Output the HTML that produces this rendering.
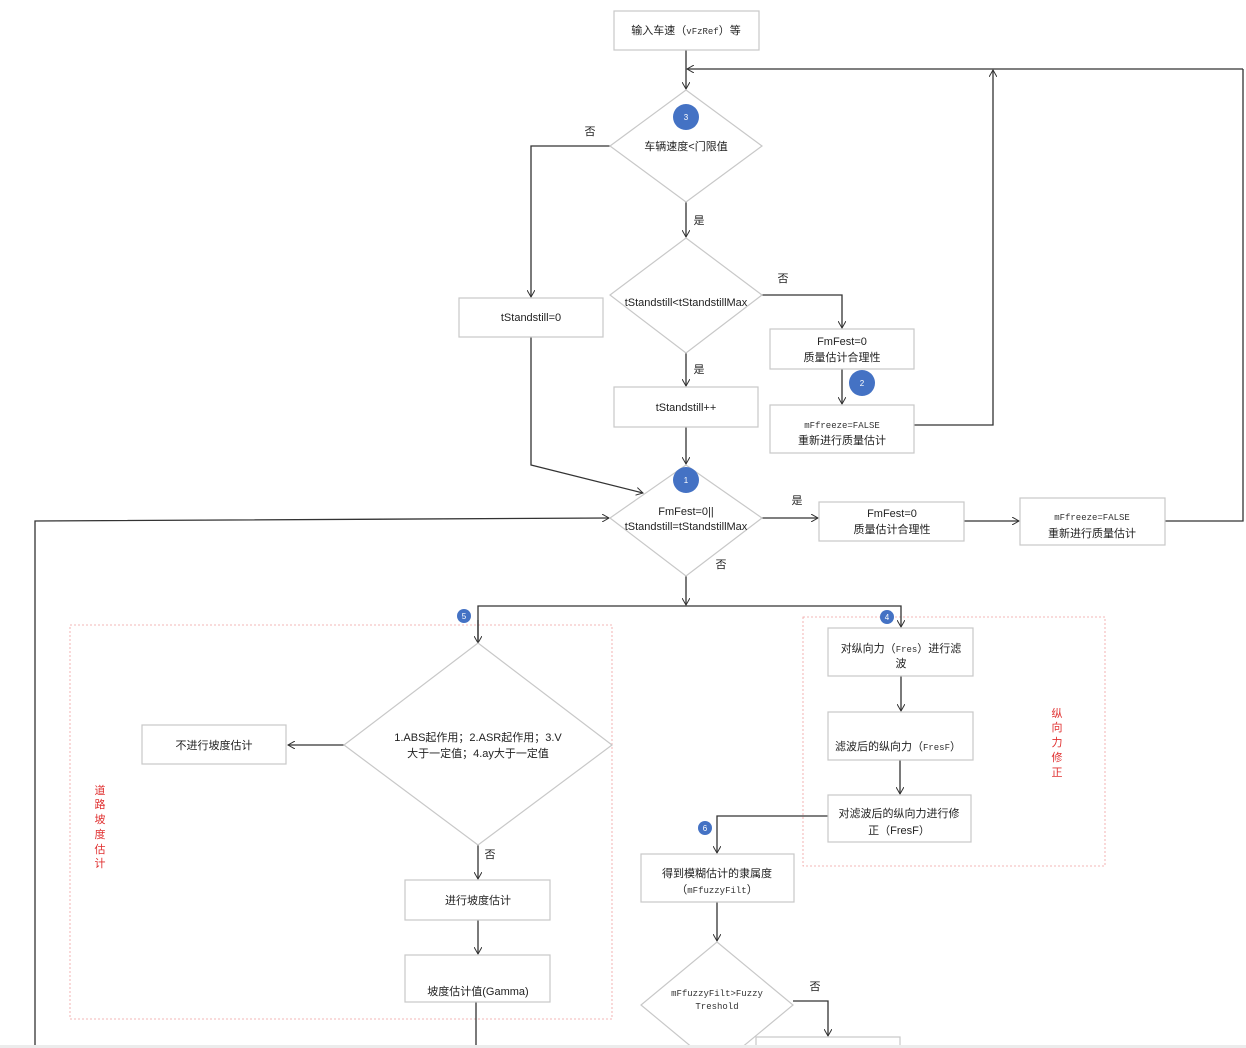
<!DOCTYPE html>
<html><head><meta charset="utf-8"><style>
html,body{margin:0;padding:0;background:#fff;}
svg{display:block;font-family:"Liberation Sans","Noto Sans CJK SC",sans-serif;}
.b{fill:#fff;stroke:#c8c8c8;stroke-width:1.2}
.l{stroke:#333;stroke-width:1.3;fill:none}
.t{font-size:11px;fill:#222;text-anchor:middle}
.m{font-family:"Liberation Mono","Noto Sans CJK SC",monospace;font-size:9px;fill:#333;text-anchor:middle}
.c{fill:#4472c4}
.ct{font-size:8px;fill:#fff;text-anchor:middle}
.r{font-size:11px;fill:#e03030;text-anchor:middle}
</style></head><body>
<svg width="1246" height="1048" viewBox="0 0 1246 1048">
<defs><marker id="a" markerWidth="8" markerHeight="8" refX="7" refY="4" orient="auto" markerUnits="userSpaceOnUse"><path d="M0,0 L7,4 L0,8" fill="none" stroke="#333" stroke-width="1"/></marker></defs>

<!-- dashed regions -->
<rect x="70" y="625" width="542" height="394" fill="none" stroke="#f0a0a0" stroke-width="0.8" stroke-dasharray="2,2"/>
<rect x="803" y="617" width="302" height="249" fill="none" stroke="#f0a0a0" stroke-width="0.8" stroke-dasharray="2,2"/>

<!-- lines -->
<path class="l" d="M686,50 V89" marker-end="url(#a)"/>
<path class="l" d="M1243,69 H687" marker-end="url(#a)"/>
<path class="l" d="M914,425 H993 V70" marker-end="url(#a)"/>
<path class="l" d="M1165,521 H1243 V69"/>
<path class="l" d="M610,146 H531 V297" marker-end="url(#a)"/>
<path class="l" d="M686,202 V237" marker-end="url(#a)"/>
<path class="l" d="M762,295 H842 V328" marker-end="url(#a)"/>
<path class="l" d="M842,369 V404" marker-end="url(#a)"/>
<path class="l" d="M686,353 V386" marker-end="url(#a)"/>
<path class="l" d="M686,427 V464" marker-end="url(#a)"/>
<path class="l" d="M531,337 V465 L643,493" marker-end="url(#a)"/>
<path class="l" d="M35,1048 V521 L609,518" marker-end="url(#a)"/>
<path class="l" d="M762,518 H818" marker-end="url(#a)"/>
<path class="l" d="M964,521 H1019" marker-end="url(#a)"/>
<path class="l" d="M686,576 V605" marker-end="url(#a)"/>
<path class="l" d="M478,643 V606 H901 V627" marker-end="url(#a)" stroke-width="1.6"/>
<path class="l" d="M478,620 V643" marker-end="url(#a)"/>
<path class="l" d="M344,745 H288" marker-end="url(#a)"/>
<path class="l" d="M478,845 V879" marker-end="url(#a)"/>
<path class="l" d="M478,920 V954" marker-end="url(#a)"/>
<path class="l" d="M476,1002 V1048"/>
<path class="l" d="M901,676 V711" marker-end="url(#a)"/>
<path class="l" d="M900,760 V794" marker-end="url(#a)"/>
<path class="l" d="M828,816 H717 V853" marker-end="url(#a)"/>
<path class="l" d="M717,902 V941" marker-end="url(#a)"/>
<path class="l" d="M793,1001 H828 V1036" marker-end="url(#a)"/>

<!-- boxes -->
<rect class="b" x="614" y="11" width="145" height="39"/>
<text class="t" x="686" y="34" font-size="10">输入车速（<tspan class="m">vFzRef</tspan>）等</text>
<polygon class="b" points="686,90 762,146 686,202 610,146"/>
<text class="t" x="686" y="150">车辆速度&lt;门限值</text>
<polygon class="b" points="686,238 762,295 686,353 610,295"/>
<text class="t" x="686" y="306" font-size="10.5">tStandstill&lt;tStandstillMax</text>
<rect class="b" x="459" y="298" width="144" height="39"/>
<text class="t" x="531" y="321" font-size="10.5">tStandstill=0</text>
<rect class="b" x="770" y="329" width="144" height="40"/>
<text class="t" x="842" y="345" font-size="10.5">FmFest=0</text>
<text class="t" x="842" y="361">质量估计合理性</text>
<rect class="b" x="770" y="405" width="144" height="48"/>
<text class="m" x="842" y="428">mFfreeze=FALSE</text>
<text class="t" x="842" y="444">重新进行质量估计</text>
<rect class="b" x="614" y="387" width="144" height="40"/>
<text class="t" x="686" y="411" font-size="10.5">tStandstill++</text>
<polygon class="b" points="686,465 762,518 686,576 610,518"/>
<text class="t" x="686" y="515" font-size="10.5">FmFest=0||</text>
<text class="t" x="686" y="530" font-size="10.5">tStandstill=tStandstillMax</text>
<rect class="b" x="819" y="502" width="145" height="39"/>
<text class="t" x="892" y="517" font-size="10.5">FmFest=0</text>
<text class="t" x="892" y="533">质量估计合理性</text>
<rect class="b" x="1020" y="498" width="145" height="47"/>
<text class="m" x="1092" y="520">mFfreeze=FALSE</text>
<text class="t" x="1092" y="537">重新进行质量估计</text>

<polygon class="b" points="478,643 612,745 478,845 344,745"/>
<text class="t" x="478" y="741" font-size="10.5">1.ABS起作用；2.ASR起作用；3.V</text>
<text class="t" x="478" y="757" font-size="10.5">大于一定值；4.ay大于一定值</text>
<rect class="b" x="142" y="725" width="144" height="39"/>
<text class="t" x="214" y="749">不进行坡度估计</text>
<rect class="b" x="405" y="880" width="145" height="40"/>
<text class="t" x="478" y="904">进行坡度估计</text>
<rect class="b" x="405" y="955" width="145" height="47"/>
<text class="t" x="478" y="995">坡度估计值(Gamma)</text>

<rect class="b" x="828" y="628" width="145" height="48"/>
<text class="t" x="901" y="652">对纵向力（<tspan class="m">Fres</tspan>）进行滤</text>
<text class="t" x="901" y="667">波</text>
<rect class="b" x="828" y="712" width="145" height="48"/>
<text class="t" x="898" y="750">滤波后的纵向力（<tspan class="m">FresF</tspan>）</text>
<rect class="b" x="828" y="795" width="143" height="47"/>
<text class="t" x="899" y="817">对滤波后的纵向力进行修</text>
<text class="t" x="899" y="834">正（FresF）</text>
<rect class="b" x="641" y="854" width="153" height="48"/>
<text class="t" x="717" y="877">得到模糊估计的隶属度</text>
<text class="t" x="717" y="893" font-size="9">（<tspan class="m">mFfuzzyFilt</tspan>）</text>
<polygon class="b" points="717,942 793,1005 717,1068 641,1005"/>
<text class="m" x="717" y="996">mFfuzzyFilt&gt;Fuzzy</text>
<text class="m" x="717" y="1009">Treshold</text>
<rect class="b" x="756" y="1037" width="144" height="30"/>

<!-- labels -->
<text class="t" x="590" y="135">否</text>
<text class="t" x="699" y="224">是</text>
<text class="t" x="783" y="282">否</text>
<text class="t" x="699" y="373">是</text>
<text class="t" x="797" y="504">是</text>
<text class="t" x="721" y="568">否</text>
<text class="t" x="490" y="858">否</text>
<text class="t" x="815" y="990">否</text>

<g class="r"><text x="100" y="794">道</text><text x="100" y="808">路</text><text x="100" y="823">坡</text><text x="100" y="838">度</text><text x="100" y="853">估</text><text x="100" y="867">计</text></g>
<g class="r"><text x="1057" y="717">纵</text><text x="1057" y="731">向</text><text x="1057" y="746">力</text><text x="1057" y="761">修</text><text x="1057" y="776">正</text></g>

<!-- circles -->
<circle class="c" cx="686" cy="117" r="13"/><text class="ct" x="686" y="120">3</text>
<circle class="c" cx="862" cy="383" r="13"/><text class="ct" x="862" y="386">2</text>
<circle class="c" cx="686" cy="480" r="13"/><text class="ct" x="686" y="483">1</text>
<circle class="c" cx="464" cy="616" r="7"/><text class="ct" x="464" y="619" font-size="7">5</text>
<circle class="c" cx="887" cy="617" r="7"/><text class="ct" x="887" y="620" font-size="7">4</text>
<circle class="c" cx="705" cy="828" r="7"/><text class="ct" x="705" y="831" font-size="7">6</text>

<rect x="0" y="1045" width="1246" height="3" fill="#ececec"/>
</svg>
</body></html>
